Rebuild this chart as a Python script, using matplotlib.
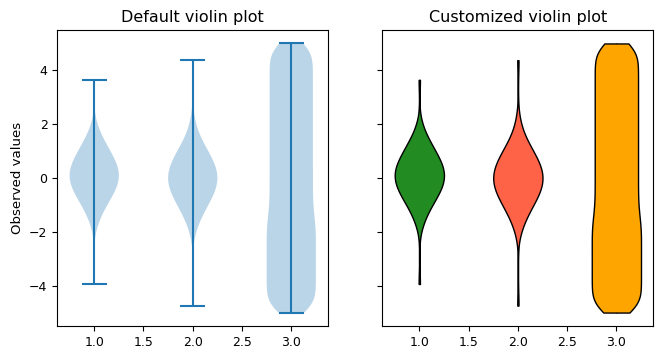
import numpy as np
import matplotlib.pyplot as plt

# sample values (sorted)
sample_a = [-3.94, -1.85, -1.66, -1.53, -1.43, -1.34, -1.26, -1.20, -1.13, -1.08,
            -1.03, -0.98, -0.94, -0.89, -0.85, -0.81, -0.78, -0.74, -0.71, -0.67,
            -0.64, -0.61, -0.58, -0.55, -0.52, -0.49, -0.47, -0.44, -0.41, -0.39,
            -0.36, -0.33, -0.31, -0.28, -0.26, -0.23, -0.21, -0.19, -0.16, -0.14,
            -0.12, -0.09, -0.07, -0.05, -0.02, 0.00, 0.02, 0.04, 0.07, 0.09,
            0.11, 0.13, 0.16, 0.18, 0.20, 0.22, 0.25, 0.27, 0.29, 0.32,
            0.34, 0.36, 0.39, 0.41, 0.44, 0.46, 0.48, 0.51, 0.53, 0.56,
            0.58, 0.61, 0.64, 0.66, 0.69, 0.72, 0.75, 0.78, 0.82, 0.85,
            0.88, 0.92, 0.95, 0.99, 1.03, 1.06, 1.11, 1.15, 1.19, 1.24,
            1.28, 1.33, 1.39, 1.45, 1.52, 1.60, 1.73, 1.86, 2.05, 3.65]
sample_b = [-4.74, -2.06, -1.86, -1.72, -1.61, -1.52, -1.44, -1.37, -1.30, -1.25,
            -1.19, -1.14, -1.09, -1.05, -1.01, -0.96, -0.93, -0.89, -0.85, -0.82,
            -0.78, -0.75, -0.72, -0.69, -0.66, -0.63, -0.60, -0.57, -0.54, -0.51,
            -0.48, -0.46, -0.43, -0.40, -0.38, -0.35, -0.33, -0.30, -0.28, -0.25,
            -0.23, -0.20, -0.18, -0.16, -0.13, -0.11, -0.08, -0.06, -0.04, -0.01,
            0.01, 0.04, 0.06, 0.08, 0.11, 0.13, 0.16, 0.18, 0.20, 0.23,
            0.25, 0.28, 0.30, 0.33, 0.35, 0.38, 0.40, 0.43, 0.46, 0.48,
            0.51, 0.54, 0.57, 0.60, 0.63, 0.66, 0.69, 0.72, 0.75, 0.78,
            0.82, 0.85, 0.89, 0.93, 0.96, 1.01, 1.05, 1.09, 1.14, 1.19,
            1.25, 1.30, 1.37, 1.44, 1.52, 1.63, 1.76, 1.94, 2.25, 4.38]
sample_c = [5.0, 4.89, 4.78, 4.68, 4.57, 4.46, 4.35, 4.24, 4.14, 4.03,
            3.92, 3.81, 3.70, 3.60, 3.49, 3.38, 3.27, 3.16, 3.06, 2.95,
            2.84, 2.73, 2.62, 2.52, 2.41, 2.30, 2.19, 2.08, 1.98, 1.87,
            1.76, 1.65, 1.54, 1.44, 1.33, 1.22, 1.11, 1.00, 0.90, 0.79,
            0.68, 0.57, 0.46, 0.36, 0.25, 0.14, 0.03, -0.08, -0.18, -0.29,
            -0.40, -0.51, -0.62, -0.72, -0.83, -0.94, -1.05, -1.15, -1.26, -1.36,
            -1.46, -1.56, -1.66, -1.76, -1.85, -1.94, -2.04, -2.13, -2.23, -2.32,
            -2.42, -2.51, -2.61, -2.70, -2.80, -2.89, -2.99, -3.08, -3.18, -3.27,
            -3.37, -3.46, -3.56, -3.65, -3.75, -3.84, -3.94, -4.03, -4.13, -4.22,
            -4.32, -4.41, -4.51, -4.60, -4.70, -4.79, -4.89, -5.0]
data = [sample_a, sample_b, sample_c]
positions = [1, 2, 3]
bandwidths = ['scott', 'scott', 0.13]   # uniform one is drawn with a tighter kernel
body_colors = ['forestgreen', 'tomato', 'orange']

plt.rcParams['xtick.labelsize'] = 9
plt.rcParams['ytick.labelsize'] = 9

fig, (ax1, ax2) = plt.subplots(nrows=1, ncols=2, figsize=(6.63, 3.59), dpi=100, sharey=True)
fig.subplots_adjust(left=0.0864, right=0.9854, top=0.9164, bottom=0.0919, wspace=0.2)

## default violin plot
ax1.set_title('Default violin plot', fontsize=11.5)
ax1.set_ylabel('Observed values', fontsize=9.6)
for d, p, bw in zip(data, positions, bandwidths):
    parts = ax1.violinplot([d], positions=[p], bw_method=bw)
    for pc in parts['bodies']:
        pc.set_facecolor('C0')
        pc.set_edgecolor('none')
        pc.set_alpha(0.3)
    for key in ['cmaxes', 'cmins', 'cbars']:
        parts[key].set_color('C0')

## customized violin plot
ax2.set_title('Customized violin plot', fontsize=11.5)
for d, p, bw, c in zip(data, positions, bandwidths, body_colors):
    parts = ax2.violinplot([d], positions=[p], bw_method=bw,
                           showmeans=False, showmedians=False, showextrema=False)
    for pc in parts['bodies']:
        pc.set_facecolor(c)
        pc.set_edgecolor('black')
        pc.set_alpha(1)

mins = [np.min(d) for d in data]
maxs = [np.max(d) for d in data]
ax2.vlines(positions, mins, maxs, color='k', linestyle='-', lw=1, zorder=0.5)

ax1.set_xticks([1.0, 1.5, 2.0, 2.5, 3.0])

plt.savefig('out.png', dpi=100)
